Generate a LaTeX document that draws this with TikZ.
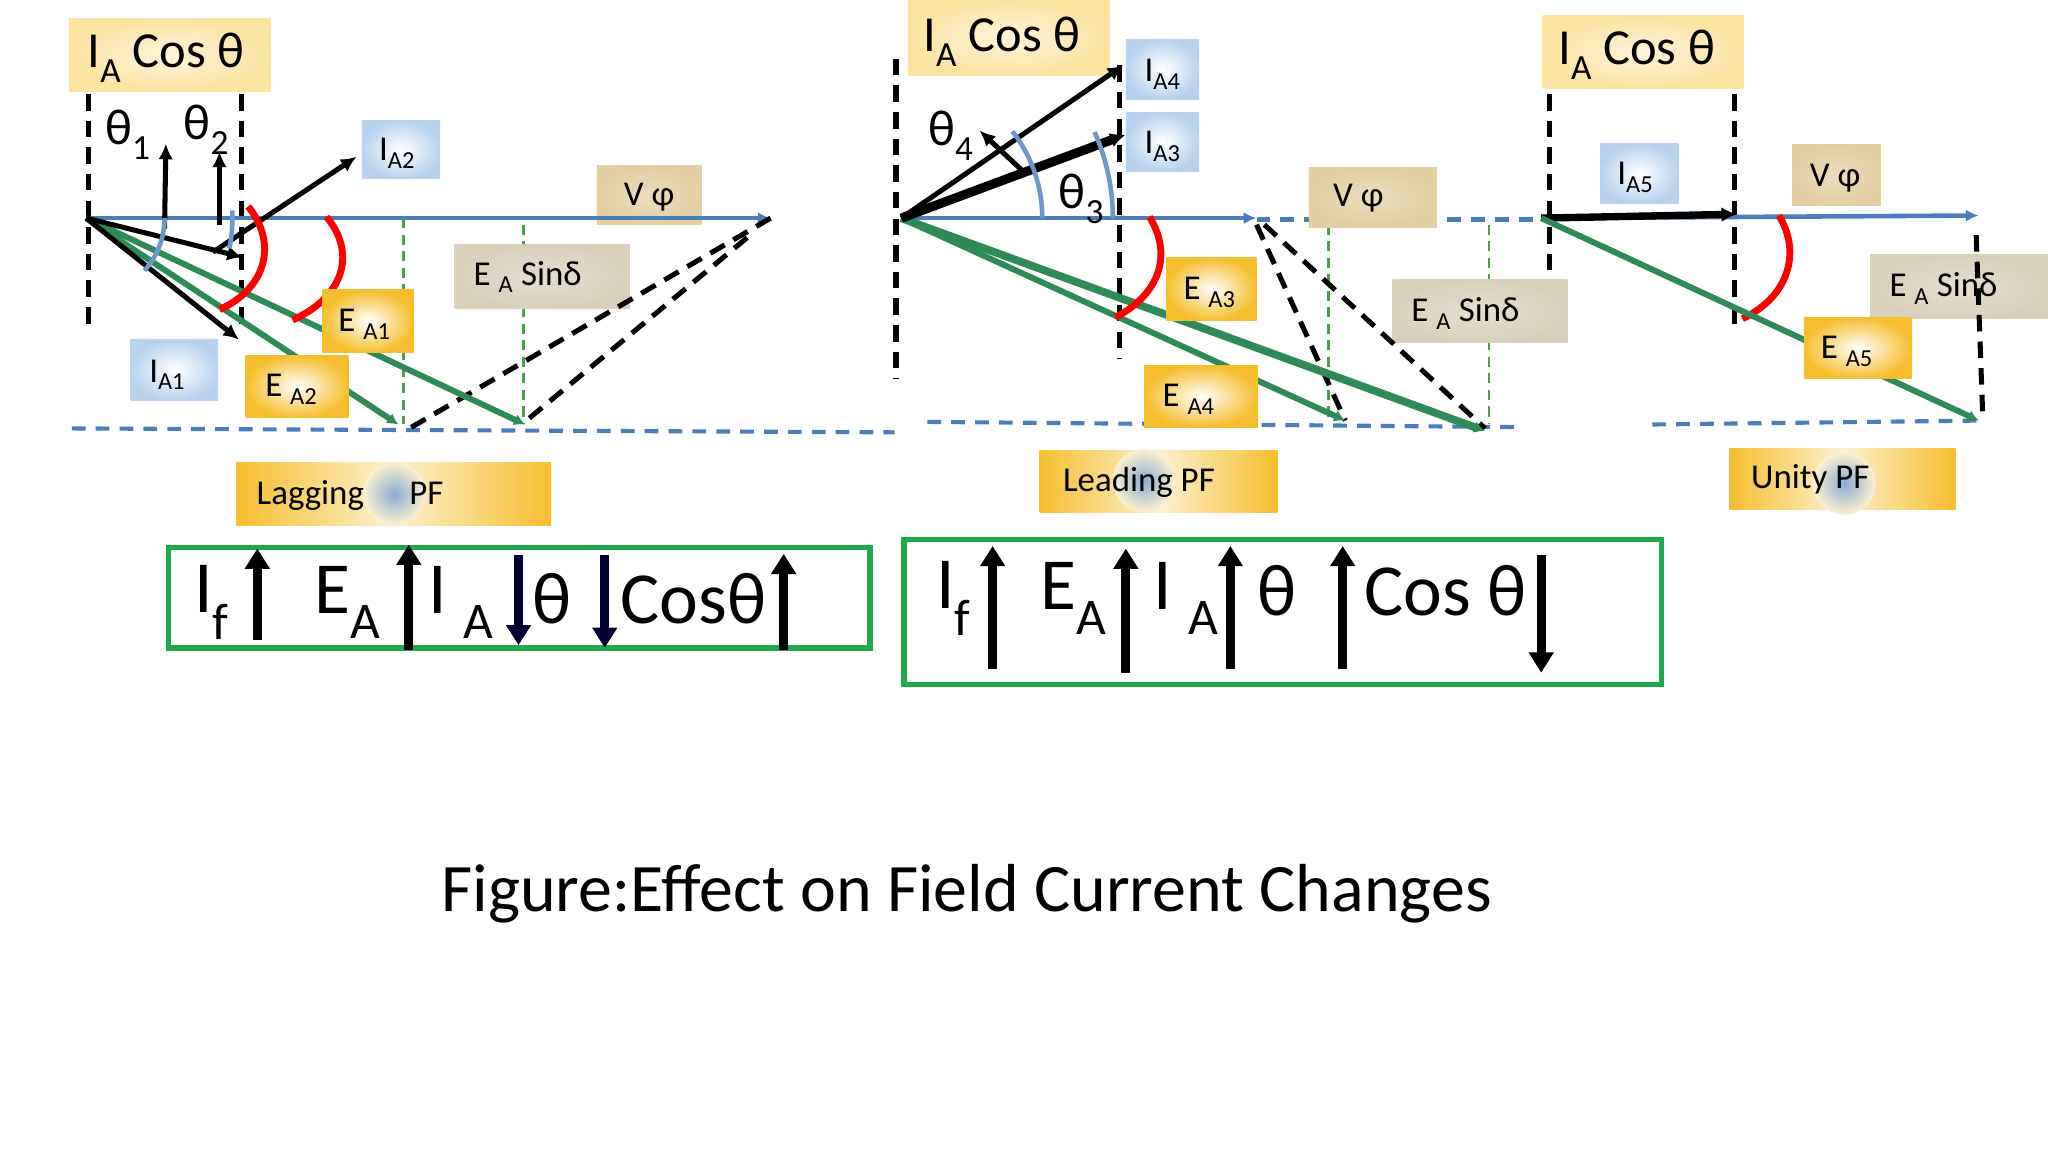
\documentclass[tikz,border=0pt]{standalone}
\usepackage{fontspec}
\setmainfont{Carlito}
\usetikzlibrary{arrows.meta,calc}
\definecolor{vblue}{HTML}{4A7EBB}
\definecolor{egreen}{HTML}{2E8B57}
\definecolor{ygold}{HTML}{F5BE2E}
\definecolor{ypale}{HTML}{FBE3A0}
\definecolor{lblue}{HTML}{B8D2EE}
\definecolor{tan}{HTML}{E2CFA0}
\definecolor{gtan}{HTML}{D9D0BC}
\definecolor{frame}{HTML}{1EAA4A}
\newcommand{\bx}[6]{\shade[#6] (#2,#3) rectangle (#4,#5);\node[lbl] (#1) at ($(#2,#3)!0.5!(#4,#5)$) {};}
\begin{document}
\begin{tikzpicture}[x=0.05cm,y=-0.05cm,
 lbl/.style={inner sep=0pt},
 yb/.style={inner color=white,outer color=ygold},
 yp/.style={inner color=ypale!40,outer color=ypale},
 bb/.style={inner color=white,outer color=lblue},
 tb/.style={inner color=tan!70,outer color=tan},
 gb/.style={inner color=gtan!70,outer color=gtan},
 big/.style={font=\fontsize{55pt}{60pt}\selectfont},
 mid/.style={font=\fontsize{38pt}{42pt}\selectfont},
 huge/.style={font=\fontsize{80pt}{88pt}\selectfont},
 vdash/.style={black,line width=5.5pt,dash pattern=on 18pt off 11pt},
 bdash/.style={vblue,line width=4.5pt,dash pattern=on 15pt off 11pt},
 gdash/.style={egreen!80!lime,line width=3pt,dash pattern=on 11pt off 7pt},
 kdash/.style={black,line width=5.5pt,dash pattern=on 18pt off 11pt},
 varr/.style={vblue,line width=5pt,-{Latex[length=14pt,width=13pt]}},
 earr/.style={egreen,line width=6.5pt,-{Latex[length=12pt,width=13pt]}},
 karr/.style={black,line width=5.5pt,-{Latex[length=17pt,width=16pt]}},
 redarc/.style={red,line width=7.5pt},
 bluearc/.style={vblue!80!white,line width=5pt},
 up/.style={line width=10pt,-{Triangle[length=22pt,width=26pt]}},
 blob/.style={inner color=vblue!65,outer color=ypale!50},
]
\useasboundingbox (0,0) rectangle (1568,882);
\fill[white] (0,0) rectangle (1568,882);
%% ---------------- Panel 1
\coordinate (O1) at (66,167);
\bx{c1}{53}{14}{207}{70}{yp}
\node[big] (t1) at (127,44) {I\textsubscript{A} Cos θ};
\draw[vdash] (68,72) -- (68,250);
\draw[vdash] (185,72) -- (185,250);
\draw[bdash] (55,328) -- (685,331);
\bx{v1}{457}{127}{537}{172}{tb}
\draw[varr] (O1) -- (590,167);
\coordinate (E1) at (402,325);
\coordinate (E2) at (305,325);
\draw[gdash] (309,167) -- (309,325);
\draw[gdash] (401,172) -- (401,325);
\bx{s1}{348}{187}{482}{236}{gb}
\node[mid] at (404,212) {E \textsubscript{A} Sinδ};
\node[mid] at (497,151) {V φ};
\draw[kdash] (590,167) -- (310,330);
\draw[kdash] (572,182) -- (403,322);
\draw[earr] (O1) -- (E1);
\draw[earr] (O1) -- (E2);
\draw[karr] (O1) -- (183,260);
\draw[karr] (O1) -- (186,197);
\draw[karr] (163,193) -- (273,120);
\draw[karr] (126,175) -- (127,110);
\draw[karr] (168,172) -- (168,116);
\draw[bluearc] ($(O1)+(0:60)$) arc[start angle=0,end angle=42,radius=60];
\draw[bluearc] ($(O1)+(-3:112)$) arc[start angle=-3,end angle=12,radius=112];
\draw[redarc] (190,158) .. controls (214,188) and (202,222) .. (168,237);
\draw[redarc] (250,166) .. controls (274,195) and (262,228) .. (224,245);
\node[big] at (98,103) {θ\textsubscript{1}};
\node[big] at (158,99) {θ\textsubscript{2}};
\bx{ia2}{277}{92}{337}{137}{bb}
\node[mid] at (304,117) {I\textsubscript{A2}};
\bx{ea1}{247}{222}{317}{270}{yb}
\node[mid] at (279,248) {E \textsubscript{A1}};
\bx{ea2}{188}{272}{267}{320}{yb}
\node[mid] at (223,298) {E \textsubscript{A2}};
\bx{ia1}{100}{260}{167}{307}{bb}
\node[mid] at (128,287) {I\textsubscript{A1}};
\shade[left color=ygold,right color=ygold,middle color=ypale!50] (181,354) rectangle (422,402);
\shade[blob] (302,378) circle (24);
\node[mid] at (268,379) {Lagging\hspace{1.3em}PF};
\draw[frame,line width=6pt] (129,419) rectangle (666,496);
\node[huge] at (162,461) {I\textsubscript{f}};
\draw[up] (197,490) -- (197,420);
\node[huge] at (266,461) {E\textsubscript{A}};
\draw[up] (313,498) -- (313,417);
\node[huge] at (353,461) {I \textsubscript{A}};
\draw[up,black!80!blue] (397,425) -- (397,494);
\node[huge] at (423,458) {θ};
\draw[up,black!80!blue] (463,425) -- (463,496);
\node[huge] at (531,458) {Cosθ};
\draw[up] (600,498) -- (600,424);
%% ---------------- Panel 2
\coordinate (O2) at (690,167);
\bx{c2}{695}{0}{850}{58}{yp}
\node[big] (t2) at (767,32) {I\textsubscript{A} Cos θ};
\draw[vdash] (686,45) -- (686,290);
\draw[vdash] (857,50) -- (857,275);
\draw[bdash] (710,323) -- (1160,327);
\draw[bdash] (962,168) -- (1175,168);
\draw[gdash] (1017,172) -- (1017,322);
\draw[gdash] (1140,172) -- (1140,325);
\bx{v2}{1002}{128}{1100}{174}{tb}
\node[mid] at (1040,152) {V φ};
\bx{s2}{1066}{214}{1200}{262}{gb}
\node[mid] at (1122,240) {E \textsubscript{A} Sinδ};
\draw[varr] (O2) -- (962,167);
\draw[kdash] (962,172) -- (1030,322);
\draw[kdash] (968,172) -- (1137,328);
\draw[earr] (O2) -- (1030,322);
\draw[earr,line width=8.5pt] (O2) -- (1137,330);
\draw[karr] (O2) -- (860,50);
\draw[karr,line width=10pt] (O2) -- (862,103);
\draw[karr] (782,130) -- (750,100);
\draw[bluearc] ($(O2)+(0:108)$) arc[start angle=0,end angle=-38,radius=108];
\draw[bluearc] ($(O2)+(0:162)$) arc[start angle=0,end angle=-24,radius=162];
\draw[redarc] (880,166) .. controls (898,195) and (888,225) .. (854,243);
\node[big] at (728,104) {θ\textsubscript{4}};
\node[big] at (828,152) {θ\textsubscript{3}};
\bx{ia4}{862}{30}{918}{76}{bb}
\node[mid] at (890,57) {I\textsubscript{A4}};
\bx{ia3}{862}{86}{918}{131}{bb}
\node[mid] at (890,112) {I\textsubscript{A3}};
\bx{ea3}{893}{197}{962}{245}{yb}
\node[mid] at (926,224) {E \textsubscript{A3}};
\bx{ea4}{876}{280}{963}{327}{yb}
\node[mid] at (910,306) {E \textsubscript{A4}};
\shade[left color=ygold,right color=ygold,middle color=ypale!50] (796,345) rectangle (978,392);
\shade[blob] (876,368) circle (24);
\node[mid] at (872,369) {Leading PF};
\draw[frame,line width=6pt] (692,413) rectangle (1272,524);
\node[huge] at (730,458) {I\textsubscript{f}};
\draw[up] (760,512) -- (760,418);
\node[huge] at (822,458) {E\textsubscript{A}};
\draw[up] (862,515) -- (862,420);
\node[huge] at (908,458) {I \textsubscript{A}};
\draw[up] (942,512) -- (942,418);
\node[huge] at (978,452) {θ};
\draw[up] (1028,512) -- (1028,418);
\node[huge] at (1107,452) {Cos θ};
\draw[up] (1180,425) -- (1180,515);
%% ---------------- Panel 3
\coordinate (O3) at (1180,167);
\bx{c3}{1181}{12}{1335}{68}{yp}
\node[big] (t3) at (1253,42) {I\textsubscript{A} Cos θ};
\draw[vdash] (1186,72) -- (1186,212);
\draw[vdash] (1328,72) -- (1328,250);
\draw[bdash] (1265,325) -- (1515,322);
\bx{v3}{1372}{111}{1440}{157}{tb}
\node[mid] at (1405,136) {V φ};
\draw[varr] (O3) -- (1515,165);
\draw[karr,line width=8pt] (O3) -- (1330,164);
\bx{ia5}{1225}{110}{1285}{156}{bb}
\node[mid] at (1252,136) {I\textsubscript{A5}};
\draw[redarc] (1362,165) .. controls (1380,195) and (1368,228) .. (1334,244);
\draw[earr] (O3) -- (1515,322);
\bx{s3}{1432}{195}{1568}{244}{gb}
\node[mid] at (1488,221) {E \textsubscript{A} Sinδ};
\draw[kdash] (1513,180) -- (1518,318);
\bx{ea5}{1381}{243}{1464}{290}{yb}
\node[mid] at (1414,269) {E \textsubscript{A5}};
\shade[left color=ygold,right color=ygold,middle color=ypale!50] (1324,343) rectangle (1497,390);
\shade[blob] (1412,370) circle (24);
\node[mid] at (1386,367) {Unity PF};
%% ---------------- Title
\node[font=\fontsize{74pt}{80pt}\selectfont] (title) at (740,684) {Figure:Effect on Field Current Changes};
\end{tikzpicture}
\end{document}
